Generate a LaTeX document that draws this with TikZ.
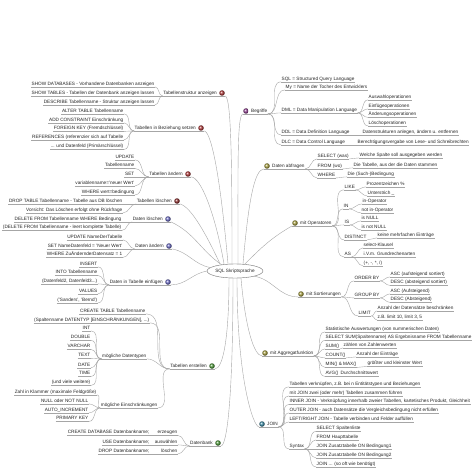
\documentclass[tikz,border=0pt]{standalone}
\usepackage{fontspec}
\setmainfont{Liberation Sans}
\usetikzlibrary{shapes.geometric}
\definecolor{pr}{HTML}{B03838}
\definecolor{prd}{HTML}{8E2E2E}
\definecolor{pb}{HTML}{6E6EC8}
\definecolor{pg}{HTML}{4E9A3A}
\definecolor{pp}{HTML}{8E3E8E}
\definecolor{py}{HTML}{A8A040}
\definecolor{pt}{HTML}{3E8EA8}
\newcommand\nR[4]{\node[t,anchor=west] (#1) at (#2,#3) {#4}; \draw[ln] (#1.south west) -- (#1.south east);}
\newcommand\nL[4]{\node[t,anchor=east] (#1) at (#2,#3) {#4}; \draw[ln] (#1.south west) -- (#1.south east);}
\newcommand\mR[5]{\node[ic=#4] (#1i) at (#2,#3) {};
 \node[t,anchor=west] (#1) at ([xshift=1.5pt]#1i.east) {#5};
 \coordinate (#1a) at (#1i.west |- #1.south);
 \draw[ln] (#1a) -- (#1.south east);}
\newcommand\mL[5]{\node[ic=#4] (#1i) at (#2,#3) {};
 \node[t,anchor=east] (#1) at ([xshift=-1.5pt]#1i.west) {#5};
 \coordinate (#1a) at (#1i.east |- #1.south);
 \draw[ln] (#1.south west) -- (#1a);}
\newcommand\eRs[2]{\foreach \k in {#2}{\draw[ln] (#1.south east) to[out=0,in=180] (\k.south west);}}
\newcommand\eLs[2]{\foreach \k in {#2}{\draw[ln] (#1.south west) to[out=180,in=0] (\k.south east);}}
\begin{document}
\begin{tikzpicture}[x=1pt,y=-1pt,
  t/.style={font=\fontsize{4.7}{5.5}\selectfont, text=black!85, inner sep=0.5pt, text height=3.4pt, text depth=1pt},
  ic/.style={circle, minimum size=5.5pt, inner sep=0pt, ball color=#1},
  ln/.style={draw=black!35, line width=0.4pt},
  hub/.style={ellipse, draw=black!45, fill=white, minimum width=44pt, minimum height=14pt, inner sep=0pt}]
\fill[white] (0,0) rectangle (474,468);
\useasboundingbox (0,0) rectangle (474,468);

% centre
\node[t,hub] (c) at (235,271) {SQL Skriptsprache};

% ---------------- left side ----------------
\mL{L1}{222}{93}{pr}{Tabellenstruktur anzeigen}
\nL{a1}{155}{84}{SHOW DATABASES - Vorhandene Datenbanken anzeigen}
\nL{a2}{155}{93}{SHOW TABLES - Tabellen der Datenbank anzeigen lassen}
\nL{a3}{155}{102}{DESCRIBE Tabellenname - Struktur anzeigen lassen}
\eLs{L1}{a1,a2,a3}

\mL{L2}{201}{128}{pr}{Tabellen in Beziehung setzen}
\nL{b1}{124}{111}{ALTER TABLE Tabellenname}
\nL{b2}{124}{120}{ADD CONSTRAINT Einschränkung}
\nL{b3}{124}{128.5}{FOREIGN KEY (Fremdschlüssel)}
\nL{b4}{124}{137}{REFERENCES (referenzier sich auf Tabelle}
\nL{b5}{124}{146.5}{... und Datenfeld (Primärschlüssel)}
\eLs{L2}{b1,b2,b3,b4,b5}

\mL{L3}{188}{174}{pr}{Tabellen ändern}
\nL{c1}{135}{157}{UPDATE}
\nL{c2}{135}{165.5}{Tabellenname}
\nL{c3}{135}{174}{SET}
\nL{c4}{135}{183}{variablenname='neuer Wert'}
\nL{c5}{135}{192}{WHERE wert=bedingung}
\eLs{L3}{c1,c2,c3,c4,c5}

\mL{L4}{177}{201}{prd}{Tabellen löschen}
\nL{d1}{123}{201}{DROP TABLE Tabellenname - Tabelle aus DB löschen}
\nL{d2}{123}{210}{Vorsicht: Das Löschen erfolgt ohne Rückfrage}
\eLs{L4}{d1,d2}

\mL{L5}{168}{219}{pb}{Daten löschen}
\nL{e1}{122}{219}{DELETE FROM Tabellenname WHERE Bedingung}
\nL{e2}{122}{227.5}{(DELETE FROM Tabellenname - leert komplette Tabelle)}
\eLs{L5}{e1,e2}

\mL{L6}{169}{246}{pb}{Daten ändern}
\nL{f1}{123}{237}{UPDATE NameDerTabelle}
\nL{f2}{123}{246}{SET NameDatenfeld = 'Neuer Wert'}
\nL{f3}{123}{254.5}{WHERE ZuÄndernderDatensatz = 1}
\eLs{L6}{f1,f2,f3}

\mL{L7}{168}{282}{pb}{Daten in Tabelle einfügen}
\nL{g1}{98}{264}{INSERT}
\nL{g2}{98}{272.5}{INTO Tabellenname}
\nL{g3}{98}{281}{(Datenfeld2, Datenfeld3...)}
\nL{g4}{98}{291}{VALUES}
\nL{g5}{98}{300}{('Sanders', 'Bernd')}
\eLs{L7}{g1,g2,g3,g4,g5}

\mL{L8}{212}{366}{pg}{Tabellen erstellen}
\nL{h1}{146}{311}{CREATE TABLE Tabellenname}
\nL{h2}{150}{320}{(Spaltenname DATENTYP [EINSCHRÄNKUNGEN], ...)}
\nL{h3}{147}{356}{mögliche Datentypen}
\nL{h4}{158}{405}{mögliche Einschränkungen}
\eLs{L8}{h1,h2,h3,h4}
\nL{hd1}{91}{328}{INT}
\nL{hd2}{91}{337.5}{DOUBLE}
\nL{hd3}{91}{346.5}{VARCHAR}
\nL{hd4}{91}{355.5}{TEXT}
\nL{hd5}{91}{365}{DATE}
\nL{hd6}{91}{373.5}{TIME}
\nL{hd7}{91}{382.5}{(und viele weitere)}
\eLs{h3}{hd1,hd2,hd3,hd4,hd5,hd6,hd7}
\nL{he1}{97}{392}{Zahl in Klammer (maximale Feldgröße)}
\nL{he2}{89}{401}{NULL oder NOT NULL}
\nL{he3}{89}{410}{AUTO\_INCREMENT}
\nL{he4}{89}{418.5}{PRIMARY KEY}
\eLs{h4}{he1,he2,he3,he4}

\mL{L9}{218}{443}{pg}{Datenbank}
\nL{k1}{178}{432.5}{erzeugen}
\nL{k2}{178}{442}{auswählen}
\nL{k3}{178}{451}{löschen}
\eLs{L9}{k1,k2,k3}
\nL{k1a}{150}{432.5}{CREATE DATABASE Datenbankname;}
\nL{k2a}{150}{442}{USE Datenbankname;}
\nL{k3a}{150}{451}{DROP Datenbankname;}
\eLs{k1}{k1a}
\eLs{k2}{k2a}
\eLs{k3}{k3a}

% ---------------- right side ----------------
\mR{R1}{246}{111}{pp}{Begriffe}
\nR{p1}{281}{79}{SQL = Structured Query Language}
\nR{p2}{285}{87}{My = Name der Tocher des Entwicklers}
\nR{p3}{281}{110}{DML = Data Manipulation Language}
\nR{p4}{281}{132}{DDL = Data Definition Language}
\nR{p5}{281}{142}{DLC = Data Control Language}
\eRs{R1}{p1,p2,p3,p4,p5}
\nR{q1}{368}{97}{Auswahloperationen}
\nR{q2}{368}{106}{Einfügeoperationen}
\nR{q3}{368}{114.5}{Änderungsoperationen}
\nR{q4}{368}{123}{Löschoperationen}
\eRs{p3}{q1,q2,q3,q4}
\nR{q5}{362}{132}{Datenstrukturen anlegen, ändern u. entfernen}
\eRs{p4}{q5}
\nR{q6}{357}{142}{Berechtigungsvergabe von Lese- und Schreibrechten}
\eRs{p5}{q6}

\mR{R2}{267}{166}{py}{Daten abfragen}
\nR{s1}{317}{156}{SELECT (was)}
\nR{s2}{317}{166}{FROM (wo)}
\nR{s3}{317}{175}{WHERE}
\eRs{R2}{s1,s2,s3}
\nR{s1a}{359}{155}{Welche Spalte soll ausgegeben werden}
\nR{s2a}{353}{165}{Die Tabelle, aus der die Daten stammen}
\nR{s3a}{347}{174}{Die (Such-)Bedingung}
\eRs{s1}{s1a}
\eRs{s2}{s2a}
\eRs{s3}{s3a}

\mR{R3}{295}{223}{py}{mit Operatoren}
\nR{o1}{344}{187}{LIKE}
\nR{o2}{343}{206}{IN}
\nR{o3}{344}{222}{IS}
\nR{o4}{344}{237}{DISTINCT}
\nR{o5}{344}{254}{AS}
\eRs{R3}{o1,o2,o3,o4,o5}
\nR{o1a}{366}{184}{Prozentzeichen \%}
\nR{o1b}{367}{193}{Unterstrich \_}
\eRs{o1}{o1a,o1b}
\nR{o2a}{362}{201}{in-Operator}
\nR{o2b}{361}{210}{not in-Operator}
\eRs{o2}{o2a,o2b}
\nR{o3a}{361}{218}{is NULL}
\nR{o3b}{361}{227}{is not NULL}
\eRs{o3}{o3a,o3b}
\nR{o4a}{377}{235}{keine mehrfachen Einträge}
\eRs{o4}{o4a}
\nR{o5a}{363}{245}{select-Klausel}
\nR{o5b}{363}{254}{i.V.m. Grundrechenarten}
\nR{o5c}{363}{263}{(+, -, *, /)}
\eRs{o5}{o5a,o5b,o5c}

\mR{R4}{301}{294}{py}{mit Sortierungen}
\nR{u1}{354}{278}{ORDER BY}
\nR{u2}{354}{295}{GROUP BY}
\nR{u3}{358}{313}{LIMIT}
\eRs{R4}{u1,u2,u3}
\nR{u1a}{390}{274}{ASC (aufsteigend sortiert)}
\nR{u1b}{390}{282.5}{DESC (absteigend sortiert)}
\eRs{u1}{u1a,u1b}
\nR{u2a}{390}{291}{ASC (Aufsteigend)}
\nR{u2b}{390}{299.5}{DESC (Absteigend)}
\eRs{u2}{u2a,u2b}
\nR{u3a}{377}{308}{Anzahl der Datensätze beschränken}
\nR{u3b}{377}{317}{z.B. limit 10, limit 3, 5}
\eRs{u3}{u3a,u3b}

\mR{R5}{265}{353}{py}{mit Aggregatfunktion}
\nR{v1}{325}{329}{Statistische Auswertungen (von nummerischen Daten)}
\nR{v2}{325}{337.5}{SELECT SUM(Spaltenname) AS Ergebnisname FROM Tabellenname}
\nR{v3}{325}{346}{SUM()}
\nR{v4}{325}{355}{COUNT()}
\nR{v5}{325}{364.5}{MIN() \& MAX()}
\nR{v6}{325}{373.5}{AVG()}
\eRs{R5}{v1,v2,v3,v4,v5,v6}
\nR{v3a}{343}{345}{zählen von Zahlenwerten}
\nR{v4a}{356}{354}{Anzahl der Einträge}
\nR{v5a}{367}{363.5}{größter und kleinster Wert}
\nR{v6a}{340}{373.5}{Durchschnittswert}
\eRs{v3}{v3a}
\eRs{v4}{v4a}
\eRs{v5}{v5a}
\eRs{v6}{v6a}

\mR{R6}{262}{424}{pt}{JOIN}
\nR{w1}{289}{384}{Tabellen verknüpfen, z.B. bei n Entitätstypen und Beziehungen}
\nR{w2}{289}{393}{mit JOIN zwei (oder mehr) Tabellen zusammen führen}
\nR{w3}{289}{401.5}{INNER JOIN - Verknüpfung innerhalb zweier Tabellen, kartetisches Produkt, Gleichheit}
\nR{w4}{289}{410}{OUTER JOIN - auch Datensätze die Vergleichsbedingung nicht erfüllen}
\nR{w5}{289}{419}{LEFT/RIGHT JOIN - Tabelle verbinden und Felder auffüllen}
\nR{w6}{289}{446}{Syntax}
\eRs{R6}{w1,w2,w3,w4,w5,w6}
\nR{x1}{316}{428.5}{SELECT Spaltenliste}
\nR{x2}{316}{437}{FROM Haupttabelle}
\nR{x3}{316}{446}{JOIN Zusatztabelle ON Bedingung1}
\nR{x4}{316}{455}{JOIN Zusatztabelle ON Bedingung2}
\nR{x5}{316}{464}{JOIN ... (so oft wie benötigt)}
\eRs{w6}{x1,x2,x3,x4,x5}

% ---------------- centre connectors ----------------
\draw[ln] ([xshift=-3pt]c.north) to[out=90,in=0,out distance=110pt,in distance=6pt] (L1a);
\draw[ln] ([xshift=-7pt]c.north) to[out=95,in=0,out distance=80pt,in distance=8pt] (L2a);
\draw[ln] ([xshift=-11pt]c.north) to[out=100,in=0,out distance=50pt,in distance=10pt] (L3a);
\draw[ln] ([xshift=-15pt]c.north) to[out=115,in=-15,out distance=30pt,in distance=12pt] (L4a);
\draw[ln] (c.155) to[out=145,in=-25] (L5a);
\draw[ln] (c.172) to[out=170,in=-10] (L6a);
\draw[ln] (c.west) to[out=190,in=0] (L7a);
\draw[ln] ([xshift=-6pt]c.south) to[out=-90,in=0,out distance=60pt,in distance=8pt] (L8a);
\draw[ln] ([xshift=-2pt]c.south) to[out=-90,in=0,out distance=120pt,in distance=6pt] (L9a);
\draw[ln] ([xshift=3pt]c.north) to[out=90,in=180,out distance=100pt,in distance=6pt] (R1a);
\draw[ln] ([xshift=8pt]c.north) to[out=85,in=180,out distance=60pt,in distance=10pt] (R2a);
\draw[ln] (c.35) to[out=45,in=-150] (R3a);
\draw[ln] (c.-15) to[out=-10,in=180] (R4a);
\draw[ln] ([xshift=6pt]c.south) to[out=-85,in=180,out distance=50pt,in distance=8pt] (R5a);
\draw[ln] ([xshift=2pt]c.south) to[out=-90,in=180,out distance=100pt,in distance=6pt] (R6a);
\node[t,hub] at (c) {SQL Skriptsprache};
\end{tikzpicture}
\end{document}
